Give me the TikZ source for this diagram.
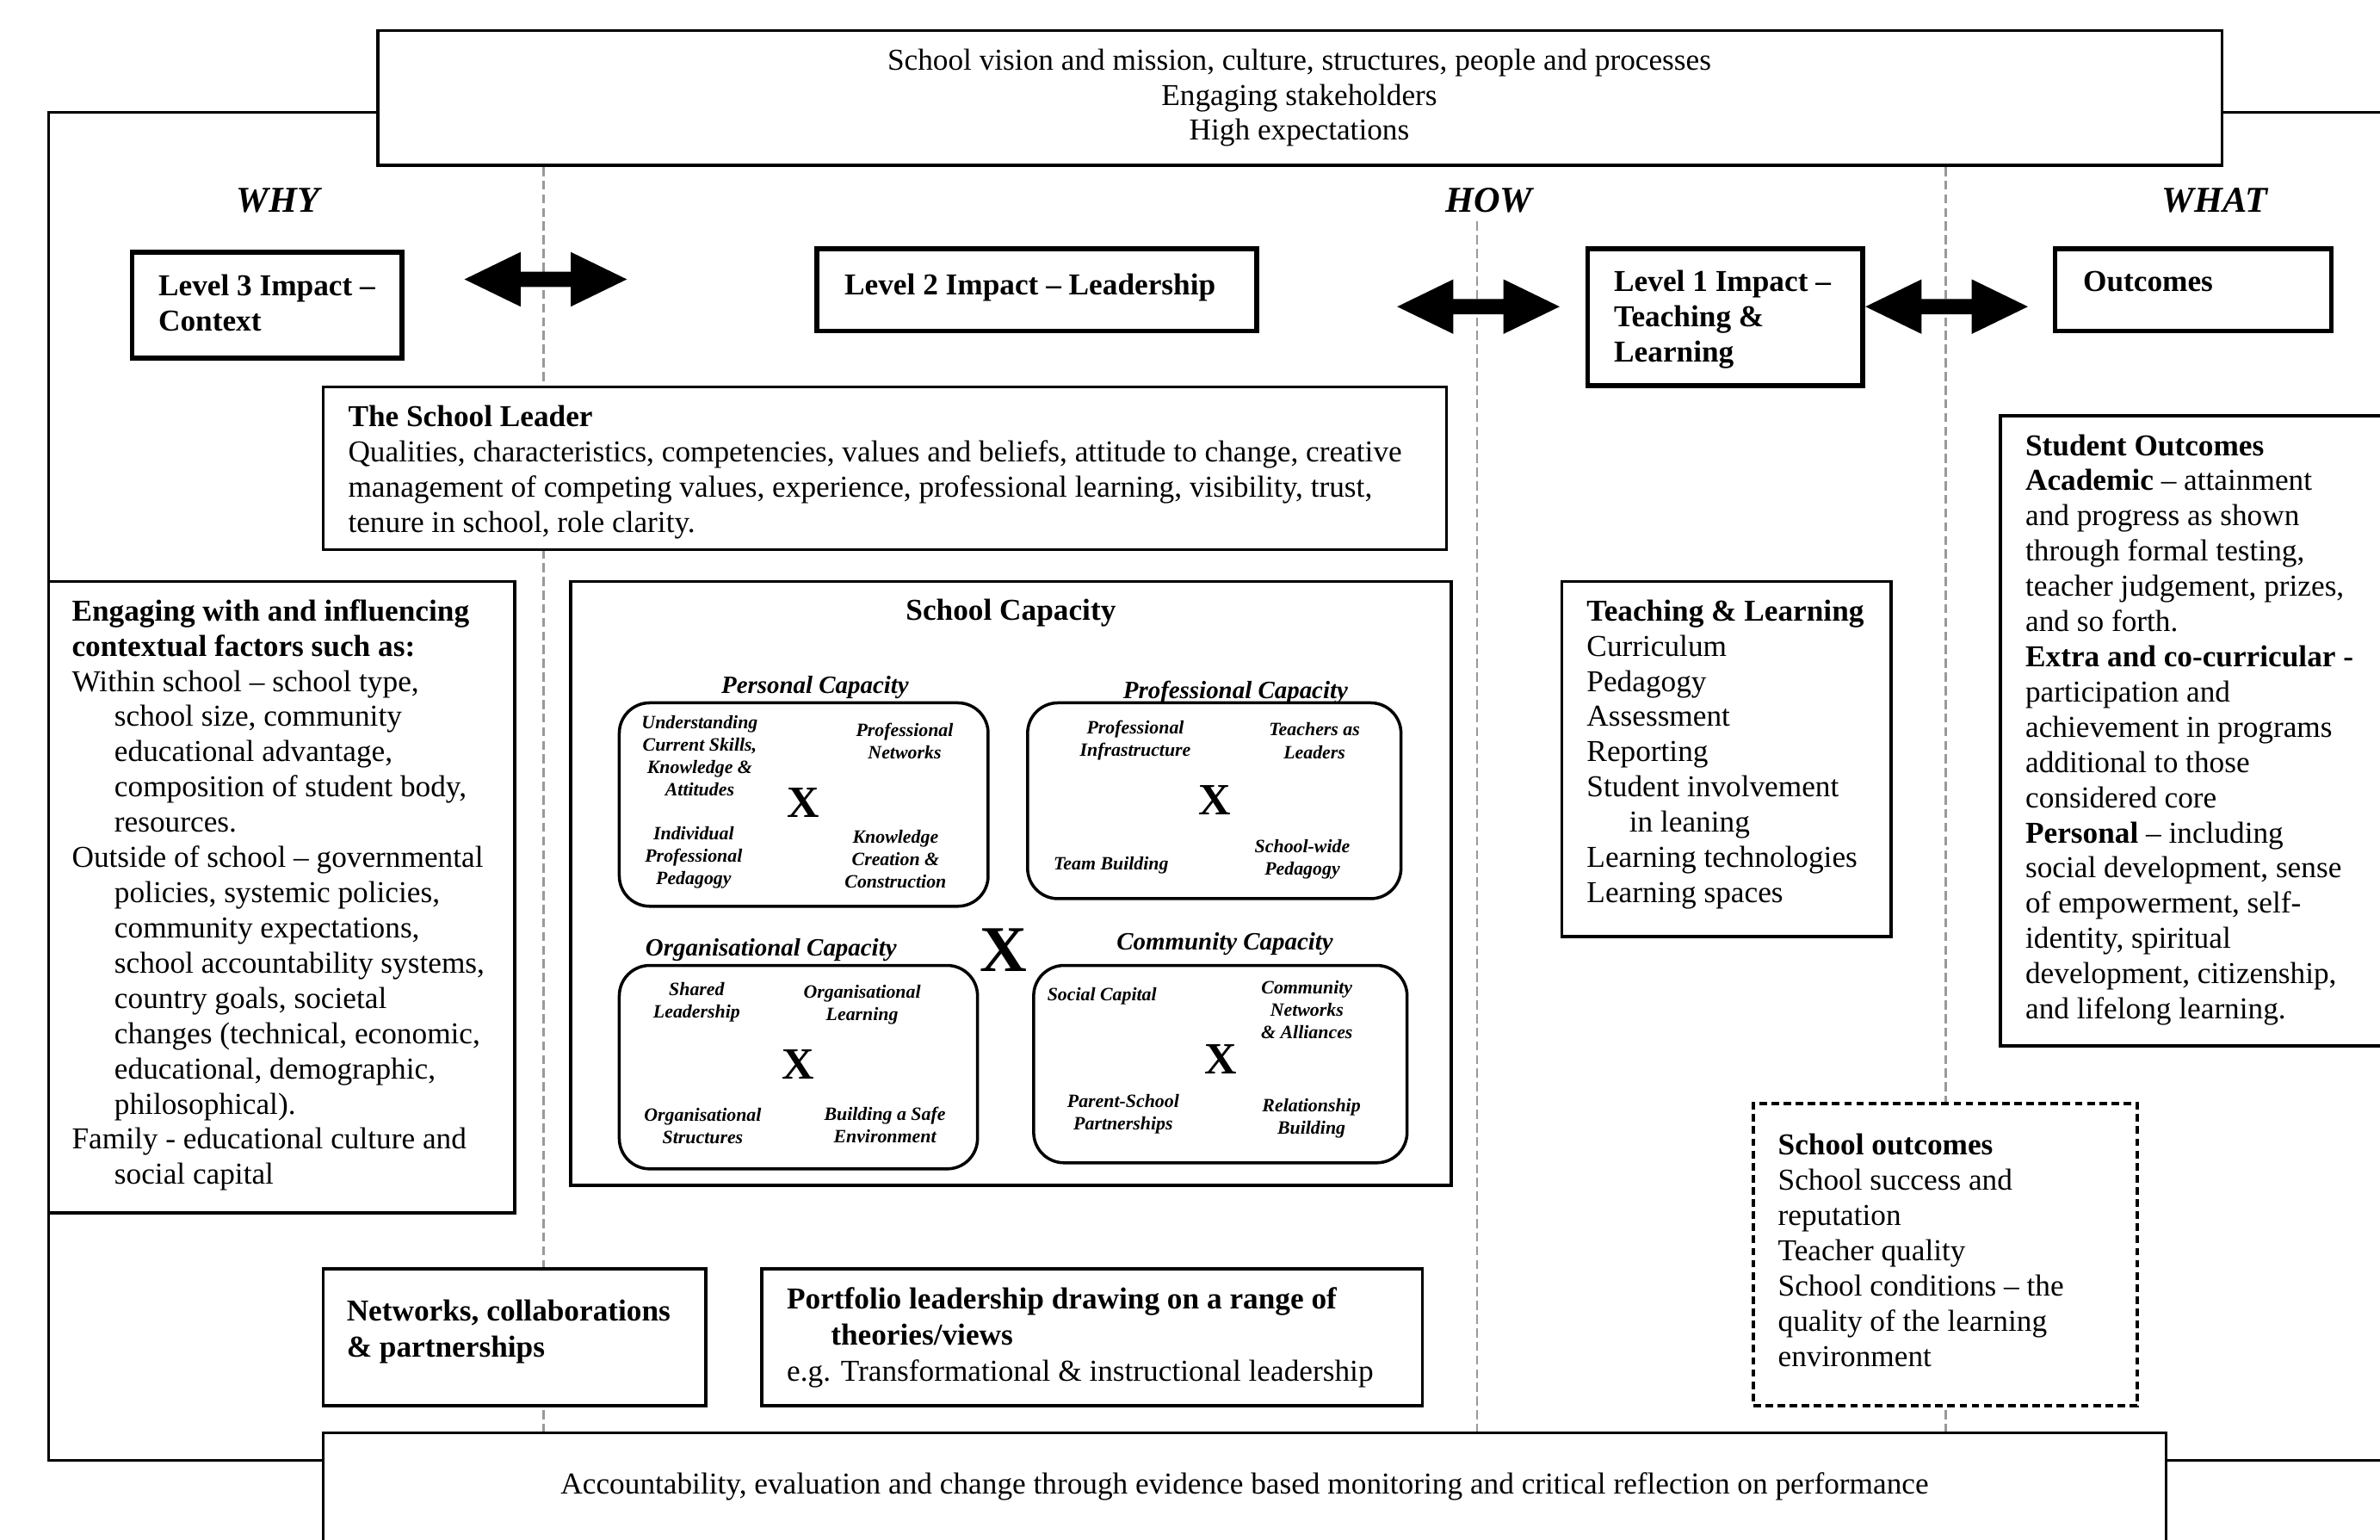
\documentclass[tikz,border=0pt]{standalone}
\usepackage{fontspec}
\setmainfont{Liberation Serif}
\usetikzlibrary{fit}
\begin{document}
\begin{tikzpicture}[x=0.5pt,y=-0.5pt,
 plainbox/.style={draw,line width=1pt,fill=white,inner sep=0pt},
 heavybox/.style={draw,line width=1.6pt,fill=white,inner sep=0pt},
 roundbox/.style={draw,line width=1pt,fill=white,inner sep=0pt,rounded corners=10pt},
 dashbox/.style={draw,line width=1pt,fill=white,inner sep=0pt,dash pattern=on 2.5pt off 1.5pt},
 guideline/.style={draw=black!40,line width=0.7pt,dash pattern=on 3pt off 1.5pt},
 txtbody/.style={inner sep=0pt,anchor=base west,align=left,font=\fontsize{10}{11.6}\selectfont},
 txtcenter/.style={inner sep=0pt,anchor=base,align=center,font=\fontsize{10}{11.6}\selectfont},
 txthead/.style={inner sep=0pt,anchor=base west,align=left,font=\fontsize{10}{11.6}\selectfont\bfseries},
 txtwide/.style={inner sep=0pt,anchor=base west,align=left,font=\fontsize{10}{12}\selectfont},
 colhead/.style={inner sep=0pt,font=\fontsize{12}{14}\selectfont\bfseries\itshape},
 captitle/.style={inner sep=0pt,font=\fontsize{10}{12}\selectfont\bfseries},
 capname/.style={inner sep=0pt,font=\fontsize{8.2}{10}\selectfont\bfseries\itshape},
 itemtxt/.style={inner sep=0pt,align=center,font=\fontsize{6.2}{7.4}\selectfont\bfseries\itshape},
 crossx/.style={inner sep=0pt,font=\fontsize{14.7}{15}\selectfont\bfseries},
 bigx/.style={inner sep=0pt,font=\fontsize{21.5}{22}\selectfont\bfseries},
 dblarrow/.pic={\fill (-53.5,0) -- (-16.5,-18) -- (-16.5,-5) -- (16.5,-5) -- (16.5,-18) -- (53.5,0) -- (16.5,18) -- (16.5,5) -- (-16.5,5) -- (-16.5,18) -- cycle;}
]
\useasboundingbox (0,0) rectangle (1568,1014);
\clip (0,0) rectangle (1568,1014);
\fill[white] (0,0) rectangle (1568,1014);

% guide lines
\draw[guideline] (358,110) -- (358,944);
\draw[guideline] (973,146) -- (973,944);
\draw[guideline] (1282,110) -- (1282,944);

% outer frame
\draw[line width=1pt] (249,74) -- (32,74) -- (32,962) -- (213,962);
\draw[line width=1pt] (1464,74) -- (1580,74);
\draw[line width=1pt] (1427,962) -- (1580,962);

% boxes
\node[plainbox,fit={(249,20)(1464,109)}] (vision) {};
\node[heavybox,fit={(87,166)(265,236)}] (lvl3) {};
\node[heavybox,fit={(538,164)(828,218)}] (lvl2) {};
\node[heavybox,fit={(1046,164)(1227,254)}] (lvl1) {};
\node[heavybox,fit={(1354,164)(1536,218)}] (outc) {};
\node[plainbox,fit={(213,255)(953,362)}] (leader) {};
\node[plainbox,fit={(32,383)(339,799)}] (context) {};
\node[plainbox,fit={(376,383)(956,781)}] (capacity) {};
\node[plainbox,fit={(1029,383)(1246,617)}] (teach) {};
\node[plainbox,fit={(1318,274)(1600,689)}] (student) {};
\node[dashbox,fit={(1155,727)(1408,926)}] (schoolout) {};
\node[plainbox,fit={(213,836)(465,926)}] (networks) {};
\node[plainbox,fit={(502,836)(937,926)}] (portfolio) {};
\node[plainbox,fit={(213,944)(1427,1040)}] (account) {};
\node[roundbox,fit={(408,463)(651,597)}] (personal) {};
\node[roundbox,fit={(677,463)(923,592)}] (professional) {};
\node[roundbox,fit={(408,636)(644,770)}] (organisational) {};
\node[roundbox,fit={(681,636)(927,766)}] (community) {};

% double arrows
\pic (arrA) at (359.5,184) {dblarrow};
\pic (arrB) at (974,202) {dblarrow};
\pic (arrC) at (1282.5,202) {dblarrow};

% texts (multi-line nodes are anchored at the baseline of their last line)
\node[txtcenter] (visiontxt) at (856,92.4) {School vision and mission, culture, structures, people and processes\\Engaging stakeholders\\High expectations};
\node[colhead] (why) at (183,132) {WHY};
\node[colhead] (how) at (981,132) {HOW};
\node[colhead] (what) at (1459,132) {WHAT};

\node[txthead] (lvl3txt) at (104,218.2) {Level 3 Impact –\\Context};
\node[txthead] (lvl2txt) at (556,194) {Level 2 Impact – Leadership};
\node[txthead] (lvl1txt) at (1063,238.4) {Level 1 Impact –\\Teaching \&\\Learning};
\node[txthead] (outctxt) at (1372,192) {Outcomes};

\node[txtbody] (leadertxt) at (229,350.6) {\textbf{The School Leader}\\Qualities, characteristics, competencies, values and beliefs, attitude to change, creative\\management of competing values, experience, professional learning, visibility, trust,\\tenure in school, role clarity.};

\node[txtbody] (contexttxt) at (47,780.2) {\textbf{Engaging with and influencing}\\\textbf{contextual factors such as:}\\Within school – school type,\\\hspace*{14pt}school size, community\\\hspace*{14pt}educational advantage,\\\hspace*{14pt}composition of student body,\\\hspace*{14pt}resources.\\Outside of school – governmental\\\hspace*{14pt}policies, systemic policies,\\\hspace*{14pt}community expectations,\\\hspace*{14pt}school accountability systems,\\\hspace*{14pt}country goals, societal\\\hspace*{14pt}changes (technical, economic,\\\hspace*{14pt}educational, demographic,\\\hspace*{14pt}philosophical).\\Family - educational culture and\\\hspace*{14pt}social capital};

\node[txtbody] (teachtxt) at (1045,594.6) {\textbf{Teaching \& Learning}\\Curriculum\\Pedagogy\\Assessment\\Reporting\\Student involvement\\\hspace*{14pt}in leaning\\Learning technologies\\Learning spaces};

\node[txtbody] (studenttxt) at (1334,671.2) {\textbf{Student Outcomes}\\\textbf{Academic} – attainment\\and progress as shown\\through formal testing,\\teacher judgement, prizes,\\and so forth.\\\textbf{Extra and co-curricular -}\\participation and\\achievement in programs\\additional to those\\considered core\\\textbf{Personal} – including\\social development, sense\\of empowerment, self-\\identity, spiritual\\development, citizenship,\\and lifelong learning.};

\node[txtbody] (schoolouttxt) at (1171,900.2) {\textbf{School outcomes}\\School success and\\reputation\\Teacher quality\\School conditions – the\\quality of the learning\\environment};

\node[txtwide,font=\fontsize{10}{12}\selectfont\bfseries] (networkstxt) at (228,894) {Networks, collaborations\\\& partnerships};
\node[txtwide] (portfoliotxt) at (518,910) {\textbf{Portfolio leadership drawing on a range of}\\\hspace*{14.5pt}\textbf{theories/views}\\e.g. Transformational \& instructional leadership};
\node[txtcenter] (accounttxt) at (820,984) {Accountability, evaluation and change through evidence based monitoring and critical reflection on performance};

% school capacity
\node[captitle] (capt) at (666,404) {School Capacity};
\node[capname] (persname) at (537,453) {Personal Capacity};
\node[capname] (profname) at (814,456) {Professional Capacity};
\node[capname] (orgname) at (508,626) {Organisational Capacity};
\node[capname] (commname) at (807,622) {Community Capacity};

\node[itemtxt] (p1) at (461,498) {Understanding\\Current Skills,\\Knowledge \&\\Attitudes};
\node[itemtxt] (p2) at (596,488) {Professional\\Networks};
\node[itemtxt] (p3) at (457,565) {Individual\\Professional\\Pedagogy};
\node[itemtxt] (p4) at (590,566) {Knowledge\\Creation \&\\Construction};
\node[crossx] (px) at (529,529) {X};

\node[itemtxt] (q1) at (748,488) {Professional\\Infrastructure};
\node[itemtxt] (q2) at (866,488) {Teachers as\\Leaders};
\node[itemtxt] (q3) at (732,570) {Team Building};
\node[itemtxt] (q4) at (858,566) {School-wide\\Pedagogy};
\node[crossx] (qx) at (800,527) {X};

\node[itemtxt] (o1) at (459,660) {Shared\\Leadership};
\node[itemtxt] (o2) at (568,662) {Organisational\\Learning};
\node[itemtxt] (o3) at (463,742) {Organisational\\Structures};
\node[itemtxt] (o4) at (583,741) {Building a Safe\\Environment};
\node[crossx] (ox) at (526,701) {X};

\node[itemtxt] (c1) at (726,656) {Social Capital};
\node[itemtxt] (c2) at (861,665) {Community\\Networks\\\& Alliances};
\node[itemtxt] (c3) at (740,734) {Parent-School\\Partnerships};
\node[itemtxt] (c4) at (864,737) {Relationship\\Building};
\node[crossx] (cx) at (804,698) {X};

\node[bigx] (bigcross) at (661,626) {X};
\end{tikzpicture}
\end{document}
